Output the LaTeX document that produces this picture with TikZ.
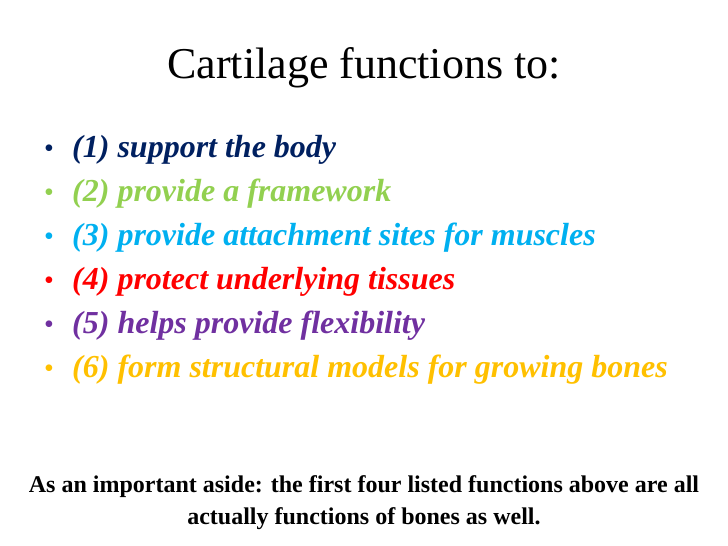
\documentclass[tikz,border=0pt]{standalone}
\usepackage{fontspec}
\setmainfont{Liberation Serif}
\definecolor{c1}{RGB}{0,32,96}
\definecolor{c2}{RGB}{146,208,80}
\definecolor{c3}{RGB}{0,176,240}
\definecolor{c4}{RGB}{255,0,0}
\definecolor{c5}{RGB}{112,48,160}
\definecolor{c6}{RGB}{255,192,0}
\tikzset{item/.style={anchor=west,inner sep=0pt,font=\fontsize{32}{36}\selectfont\bfseries\itshape},
bul/.style={anchor=center,inner sep=0pt,font=\fontsize{28}{30}\selectfont}}
\begin{document}
\begin{tikzpicture}[x=1pt,y=-1pt]
\useasboundingbox (0,0) rectangle (728,546);
\node[font=\fontsize{44}{48}\selectfont] (title) at (364,68) {Cartilage functions to:};
\foreach \t/\c [count=\i] in {{(1) support the body}/c1,{(2) provide a framework}/c2,{(3) provide attachment sites for muscles}/c3,{(4) protect underlying tissues}/c4,{(5) helps provide flexibility}/c5,{(6) form structural models for growing bones}/c6}{
  \node[bul,text=\c] (b\i) at (49,{107+44*\i}) {•};
  \node[item,text=\c] (i\i) at (72,{106+44*\i}) {\t};
}
\node[align=center,font=\fontsize{24}{32}\selectfont\bfseries] (aside) at (364,503) {As an important aside: the first four listed functions above are all\\actually functions of bones as well.};
\end{tikzpicture}
\end{document}
